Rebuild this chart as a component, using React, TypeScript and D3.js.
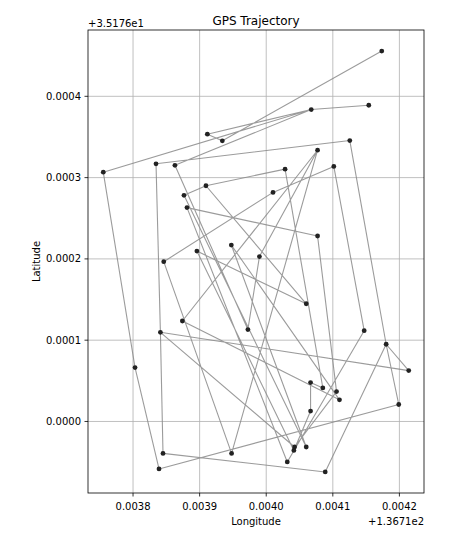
import React from "react";
import * as d3 from "d3";

// GPS fixes (offsets from 136.71 E / 35.176 N)
const pointIds = ["A","B","C","D","E","F","G","H","I","J","K","L","M","N","O","P","Q","R","S","T","U","V","W","X","Y","Z","a","b","c","d","e","f","g","h","i","j","k","l","m","n","o","p","q"];
const lonOffsets = [0.0041735,0.0040676,0.004154,0.0039116,0.0039341,0.0041255,0.0037553,0.0038345,0.0038629,0.0040771,0.0040283,0.0041015,0.0039095,0.0038765,0.0040102,0.003881,0.0039476,0.0038959,0.0039898,0.0038461,0.0040771,0.0038741,0.0039725,0.0038411,0.0040601,0.0041471,0.003803,0.0041801,0.004214,0.004199,0.0040666,0.004085,0.0041056,0.00411,0.0040666,0.0040426,0.0040415,0.0040601,0.0040316,0.0040886,0.003845,0.003948,0.003839];
const latOffsets = [0.0004557,0.0003837,0.000389,0.0003534,0.0003453,0.0003456,0.0003067,0.000317,0.0003151,0.0003337,0.0003104,0.0003137,0.00029,0.0002782,0.0002818,0.0002631,0.000217,0.0002096,0.0002029,0.0001966,0.0002282,0.0001236,0.0001131,0.0001097,0.0001448,0.0001117,0.0000663,0.000095,0.0000626,0.0000209,0.0000478,0.0000413,0.0000368,0.0000266,0.0000128,-0.0000314,-0.0000356,-0.0000314,-0.0000498,-0.0000621,-0.0000393,-0.0000393,-0.0000584];
// order in which the fixes were visited
const route = ["A","E","D","B","C","B","G","a","q","d","b","c","X","H","F","b","n","o","X","j","g","U","P","m","Z","L","O","T","p","J","S","W","I","B","I","W","S","J","V","h","Q","l","N","M","K","f","e","i","k","R","Y","M"];

const LON_OFFSET_LABEL = "+1.3671e2";
const LAT_OFFSET_LABEL = "+3.5176e1";
const TITLE = "GPS Trajectory";
const X_LABEL = "Longitude";
const Y_LABEL = "Latitude";

const W = 474, H = 538;
const M = { left: 88, right: 424, top: 30, bottom: 493 };
const FONT = "DejaVu Sans, sans-serif";

export default function App() {
  const xExt = d3.extent(lonOffsets) as [number, number];
  const yExt = d3.extent(latOffsets) as [number, number];
  const xPad = (xExt[1] - xExt[0]) * 0.05;
  const yPad = (yExt[1] - yExt[0]) * 0.05;
  const x = d3.scaleLinear().domain([xExt[0] - xPad, xExt[1] + xPad]).range([M.left, M.right]);
  const y = d3.scaleLinear().domain([yExt[0] - yPad, yExt[1] + yPad]).range([M.bottom, M.top]);
  const xTicks = x.ticks(5);
  const yTicks = y.ticks(6);
  const fmt = d3.format(".4f");
  const idx = new Map(pointIds.map((id, i) => [id, i]));
  const path = route.map((id) => idx.get(id) as number);
  const line = d3.line<number>().x((i) => x(lonOffsets[i])).y((i) => y(latOffsets[i]));

  return (
    <svg width={W} height={H} style={{ position: "absolute", left: 0, top: 0, background: "#fff" }} fontFamily={FONT}>
      <rect x={0} y={0} width={W} height={H} fill="#fff" />
      <g stroke="#b0b0b0" strokeWidth={0.8}>
        {xTicks.map((t) => (
          <line key={"gx" + t} x1={x(t)} x2={x(t)} y1={M.top} y2={M.bottom} />
        ))}
        {yTicks.map((t) => (
          <line key={"gy" + t} x1={M.left} x2={M.right} y1={y(t)} y2={y(t)} />
        ))}
      </g>
      <path d={line(path) || ""} fill="none" stroke="#8a8a8a" strokeOpacity={0.85} strokeWidth={1.1} strokeLinejoin="round" />
      <g fill="#222">
        {pointIds.map((id, i) => (
          <circle key={id} cx={x(lonOffsets[i])} cy={y(latOffsets[i])} r={2.4} />
        ))}
      </g>
      <rect x={M.left} y={M.top} width={M.right - M.left} height={M.bottom - M.top} fill="none" stroke="#000" strokeWidth={0.8} />
      <g stroke="#000" strokeWidth={0.8}>
        {xTicks.map((t) => (
          <line key={"tx" + t} x1={x(t)} x2={x(t)} y1={M.bottom} y2={M.bottom + 3.5} />
        ))}
        {yTicks.map((t) => (
          <line key={"ty" + t} x1={M.left - 3.5} x2={M.left} y1={y(t)} y2={y(t)} />
        ))}
      </g>
      <g fontSize={10} fill="#000">
        {xTicks.map((t) => (
          <text key={"lx" + t} x={x(t)} y={509.5} textAnchor="middle">{fmt(t)}</text>
        ))}
        {yTicks.map((t) => (
          <text key={"ly" + t} x={81} y={y(t) + 3.6} textAnchor="end">{fmt(Math.abs(t) < 1e-12 ? 0 : t)}</text>
        ))}
        <text x={M.left} y={27}>{LAT_OFFSET_LABEL}</text>
        <text x={M.right} y={524.5} textAnchor="end">{LON_OFFSET_LABEL}</text>
        <text x={(M.left + M.right) / 2} y={525} textAnchor="middle">{X_LABEL}</text>
        <text transform={`translate(39.5,${(M.top + M.bottom) / 2}) rotate(-90)`} textAnchor="middle">{Y_LABEL}</text>
      </g>
      <text x={(M.left + M.right) / 2} y={24.5} textAnchor="middle" fontSize={12} fill="#000">{TITLE}</text>
    </svg>
  );
}
